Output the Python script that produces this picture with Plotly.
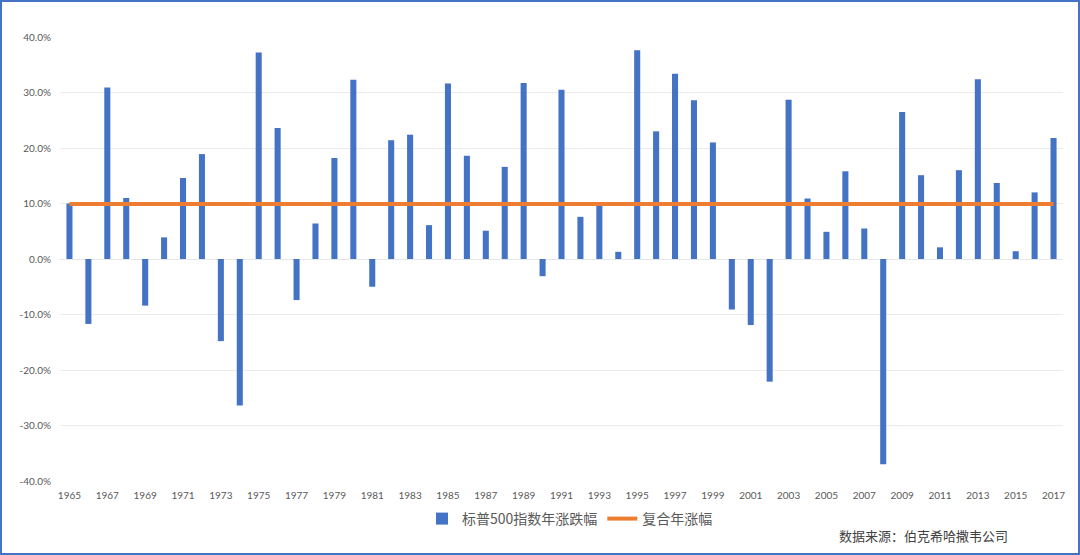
import plotly.graph_objects as go

years = [str(y) for y in range(1965, 2018)]
sp500 = [10.0, -11.7, 30.9, 11.0, -8.4, 3.9, 14.6, 18.9, -14.8, -26.4,
         37.2, 23.6, -7.4, 6.4, 18.2, 32.3, -5.0, 21.4, 22.4, 6.1,
         31.6, 18.6, 5.1, 16.6, 31.7, -3.1, 30.5, 7.6, 10.1, 1.3,
         37.6, 23.0, 33.4, 28.6, 21.0, -9.1, -11.9, -22.1, 28.7, 10.9,
         4.9, 15.8, 5.5, -37.0, 26.5, 15.1, 2.1, 16.0, 32.4, 13.7,
         1.4, 12.0, 21.8]
cagr = [9.9] * len(years)
y_tickvals = [-40, -30, -20, -10, 0, 10, 20, 30, 40]
y_ticktext = ["-40.0%", "-30.0%", "-20.0%", "-10.0%", "0.0%", "10.0%", "20.0%", "30.0%", "40.0%"]
x_tickvals = years[::2]

FONT = "Lato, 'Noto Sans CJK SC', sans-serif"
CJK = "'Noto Sans CJK SC', sans-serif"

fig = go.Figure()
fig.add_trace(go.Bar(x=years, y=sp500, name="标普500指数年涨跌幅",
                     marker=dict(color="#4472C4", line=dict(width=0))))
fig.add_trace(go.Scatter(x=years, y=cagr, name="复合年涨幅", mode="lines",
                         line=dict(color="#ED7D31", width=4)))

L, R, T, B = 60, 17, 37, 74
W, H = 1080, 555
pw, ph = W - L - R, H - T - B

fig.update_layout(
    width=W, height=H,
    margin=dict(l=L, r=R, t=T, b=B),
    paper_bgcolor="white", plot_bgcolor="white",
    bargap=0.68,
    font=dict(family=FONT, color="#595959", size=10),
    showlegend=True,
    legend=dict(orientation="h", x=(570 - L) / pw, y=(H - B - 519) / ph,
                xanchor="center", yanchor="middle",
                font=dict(family=CJK, size=14, color="#595959"),
                itemwidth=30, tracegroupgap=0),
    xaxis=dict(type="category", tickmode="array", tickvals=x_tickvals,
               showgrid=False, showline=False, ticks="", zeroline=False,
               tickfont=dict(size=10, color="#595959"), tickangle=0,
               ticklabelstandoff=7),
    yaxis=dict(range=[-40, 40], tickmode="array", tickvals=y_tickvals,
               ticktext=y_ticktext, showgrid=True, gridcolor="#EBEBEB",
               gridwidth=1, zeroline=True, zerolinecolor="#E6E6E6",
               zerolinewidth=1, showline=False, ticks="",
               tickfont=dict(size=10, color="#595959"), ticklabelstandoff=8),
)

fig.add_annotation(text="数据来源：伯克希哈撒韦公司", xref="paper", yref="paper",
                   x=(923 - L) / pw, y=(H - B - 535) / ph, xanchor="center",
                   yanchor="middle", showarrow=False,
                   font=dict(family=CJK, size=13, color="#404040"))

fig.add_shape(type="rect", xref="paper", yref="paper",
              x0=(1 - L) / pw, x1=(W - 1 - L) / pw,
              y0=(H - B - (H - 1)) / ph, y1=(H - B - 1) / ph,
              line=dict(color="#4472C4", width=2), fillcolor="rgba(0,0,0,0)")

fig.write_html("out.html")
